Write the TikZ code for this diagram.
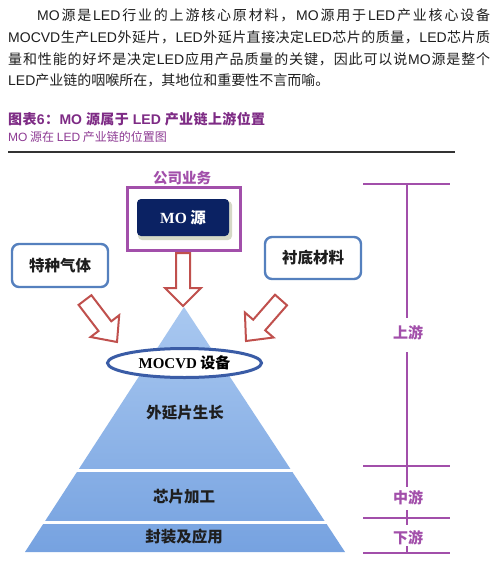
\documentclass[tikz,border=0pt]{standalone}
\usepackage{fontspec}
\setmainfont{Noto Sans CJK SC}
\newfontfamily\latf{Liberation Sans}
\newfontfamily\serf{Liberation Serif}
\newcommand\lt[1]{{\latf #1}}
\usetikzlibrary{shapes.geometric}
\definecolor{ttl}{HTML}{7E2B85}
\definecolor{sub}{HTML}{8E3B94}
\definecolor{brk}{HTML}{A24FAA}
\definecolor{boxblue}{HTML}{5580BE}
\definecolor{navy}{HTML}{0B2263}
\definecolor{arr}{HTML}{C0504D}
\definecolor{ell}{HTML}{3A5CA6}
\definecolor{txt}{HTML}{1E1E1E}
\definecolor{shad}{HTML}{D5D9C6}
\definecolor{pytop}{HTML}{A9C8F0}
\definecolor{pybot}{HTML}{76A2E0}
\makeatletter
\newcommand\spreadline[2]{\hbox to #1pt{\@tfor\@c:=#2\do{\@c\hskip 0pt plus 1fil}\unskip}}
\makeatother
\begin{document}
\begin{tikzpicture}[x=1pt,y=-1pt,
  para/.style={anchor=west,inner sep=0,text=txt,font=\fontsize{14}{16}\selectfont},
  sidebox/.style={draw=boxblue,line width=2.4pt,rounded corners=7pt,fill=white,minimum width=96pt,inner sep=0,text=txt,font=\fontsize{15.5}{17}\selectfont\bfseries},
  blockarrow/.style={draw=arr,line width=2pt,fill=white,line join=miter},
  brline/.style={draw=brk,line width=2.2pt},
  brlabel/.style={text=brk,font=\fontsize{15}{17}\selectfont\bfseries,inner sep=0},
  pylabel/.style={text=txt,font=\fontsize{15.5}{17}\selectfont\bfseries,inner sep=0}]
\useasboundingbox (0,0) rectangle (500,562);
\fill[white] (0,0) rectangle (500,562);
% paragraph
\node[para] (p1) at (37,15) {\spreadline{453}{{\lt{MO}}源是{\lt{LED}}行业的上游核心原材料，{\lt{MO}}源用于{\lt{LED}}产业核心设备}};
\node[para] (p2) at (8,37.5) {\spreadline{482}{{\lt{MOCVD}}生产{\lt{LED}}外延片，{\lt{LED}}外延片直接决定{\lt{LED}}芯片的质量，{\lt{LED}}芯片质}};
\node[para] (p3) at (8,59) {\spreadline{482}{量和性能的好坏是决定{\lt{LED}}应用产品质量的关键，因此可以说{\lt{MO}}源是整个}};
\node[para] (p4) at (8,80) {\lt{LED}产业链的咽喉所在，其地位和重要性不言而喻。};
% titles
\node[anchor=west,inner sep=0,text=ttl,font=\fontsize{14}{16}\selectfont\bfseries] (title) at (8,119) {\spreadline{257}{图表{\lt{6}}：{\lt{MO}}{\ }源属于{\ }{\lt{LED}}{\ }产业链上游位置}};
\node[anchor=west,inner sep=0,text=sub,font=\fontsize{12}{14}\selectfont] (subtitle) at (8,137) {\lt{MO} 源在 \lt{LED} 产业链的位置图};
\draw[line width=1.8pt,draw=black!80] (8,152) -- (455,152);
% company business
\node[text=brk,font=\fontsize{14.5}{16}\selectfont\bfseries,inner sep=0] (biz) at (182,178) {公司业务};
\draw[draw=brk,line width=3pt] (127,187) rectangle (240,250);
\fill[shad,rounded corners=4pt] (138,201) rectangle (232,240);
\node[fill=navy,rounded corners=4pt,minimum width=92pt,minimum height=37pt,inner sep=0,text=white,font=\fontsize{15.5}{17}\selectfont\bfseries] (mo) at (183,217.5) {{\serf MO} 源};
% side boxes
\node[sidebox,minimum height=43pt] (gas) at (60,265.5) {特种气体};
\node[sidebox,minimum height=42pt] (sub) at (313,258) {衬底材料};
% pyramid
\shade[top color=pytop, bottom color=pybot]
  (184,307) coordinate (apex) -- (345,552) coordinate (br) -- (25,552) coordinate (bl) -- cycle;
\fill[white] (20,468.6) rectangle (350,472.2);
\fill[white] (20,520.6) rectangle (350,523.6);
\node[ellipse,draw=ell,line width=3pt,fill=white,minimum width=154pt,minimum height=29pt,inner sep=0,text=black,font=\fontsize{15}{17}\selectfont\bfseries] (mocvd) at (184.5,363) {{\serf MOCVD} 设备};
\node[pylabel] (l1) at (185,413) {外延片生长};
\node[pylabel] (l2) at (184,497) {芯片加工};
\node[pylabel] (l3) at (184,537) {封装及应用};
% block arrows
\draw[blockarrow] (176,253) -- (176,288) -- (165,288) -- (183,306) -- (201,288) -- (190,288) -- (190,253) -- cycle;
\draw[blockarrow] (78.6,304.9) -- (98.5,331.0) -- (90.6,337.0) -- (117,342) -- (119.2,315.2) -- (111.3,321.3) -- (91.4,295.2) -- cycle;
\draw[blockarrow] (275.0,294.7) -- (253.2,319.7) -- (244.9,312.5) -- (246,341) -- (273.5,337.5) -- (265.2,330.3) -- (287.0,305.3) -- cycle;
% bracket
\draw[brline] (363,184) -- (450,184);
\draw[brline] (407,184) -- (407,318);
\node[brlabel] (up) at (408,333) {上游};
\draw[brline] (407,352) -- (407,487);
\draw[brline] (363,466) -- (450,466);
\node[brlabel] (mid) at (408,498) {中游};
\draw[brline] (407,510) -- (407,525);
\draw[brline] (363,518) -- (450,518);
\node[brlabel] (down) at (408,538) {下游};
\draw[brline] (407,546) -- (407,553);
\draw[brline] (363,553) -- (450,553);
\end{tikzpicture}
\end{document}
